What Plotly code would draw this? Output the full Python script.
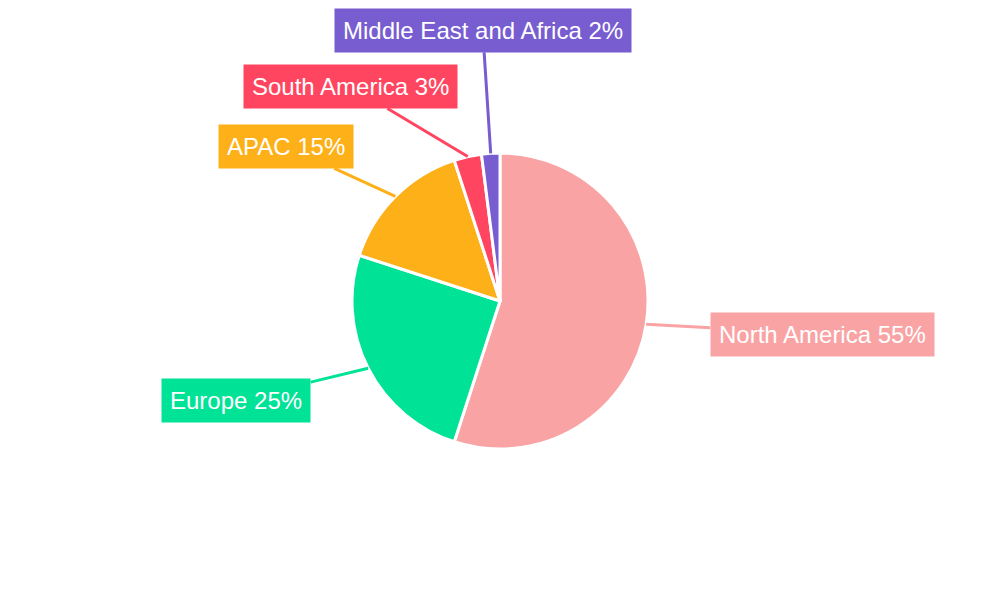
import math
import plotly.graph_objects as go

regions = ["North America", "Europe", "APAC", "South America", "Middle East and Africa"]
shares = [55, 25, 15, 3, 2]
colors = ["#F9A3A4", "#00E396", "#FEB019", "#FF4560", "#775DD0"]
label_offsets = [(176, 10), (-132, 32), (-109, -50), (-117, -70), (-8, -123)]

W, H = 1000, 600
cx, cy, r = 500, 300, 148
dx, dy = -8, -7  # rendering offset correction

fig = go.Figure(go.Pie(
    labels=regions, values=shares, sort=False, direction="clockwise", rotation=0,
    marker=dict(colors=colors, line=dict(color="white", width=3)),
    textinfo="none", hoverinfo="label+percent", showlegend=False,
    domain=dict(x=[0, 1 + 2 * dx / W],
                y=[0.5 - r / H - dy / H, 0.5 + r / H - dy / H]),
))

total = sum(shares)
cum = 0
anns = []
for name, v, c, (ax, ay) in zip(regions, shares, colors, label_offsets):
    mid = (cum + v / 2) / total * 2 * math.pi
    cum += v
    px = cx + dx + r * math.sin(mid)
    py = cy + dy - r * math.cos(mid)
    anns.append(dict(
        x=px / W, y=1 - py / H, xref="paper", yref="paper",
        text=f"{name} {round(v / total * 100)}%", showarrow=True, arrowhead=0,
        arrowwidth=3, arrowcolor=c, ax=ax, ay=ay, bgcolor=c, borderpad=8,
        font=dict(color="white", size=24, family="Liberation Sans, Arial"),
    ))

fig.update_layout(width=W, height=H, margin=dict(l=0, r=0, t=0, b=0),
                  paper_bgcolor="white", annotations=anns)
fig.write_html("out.html")
